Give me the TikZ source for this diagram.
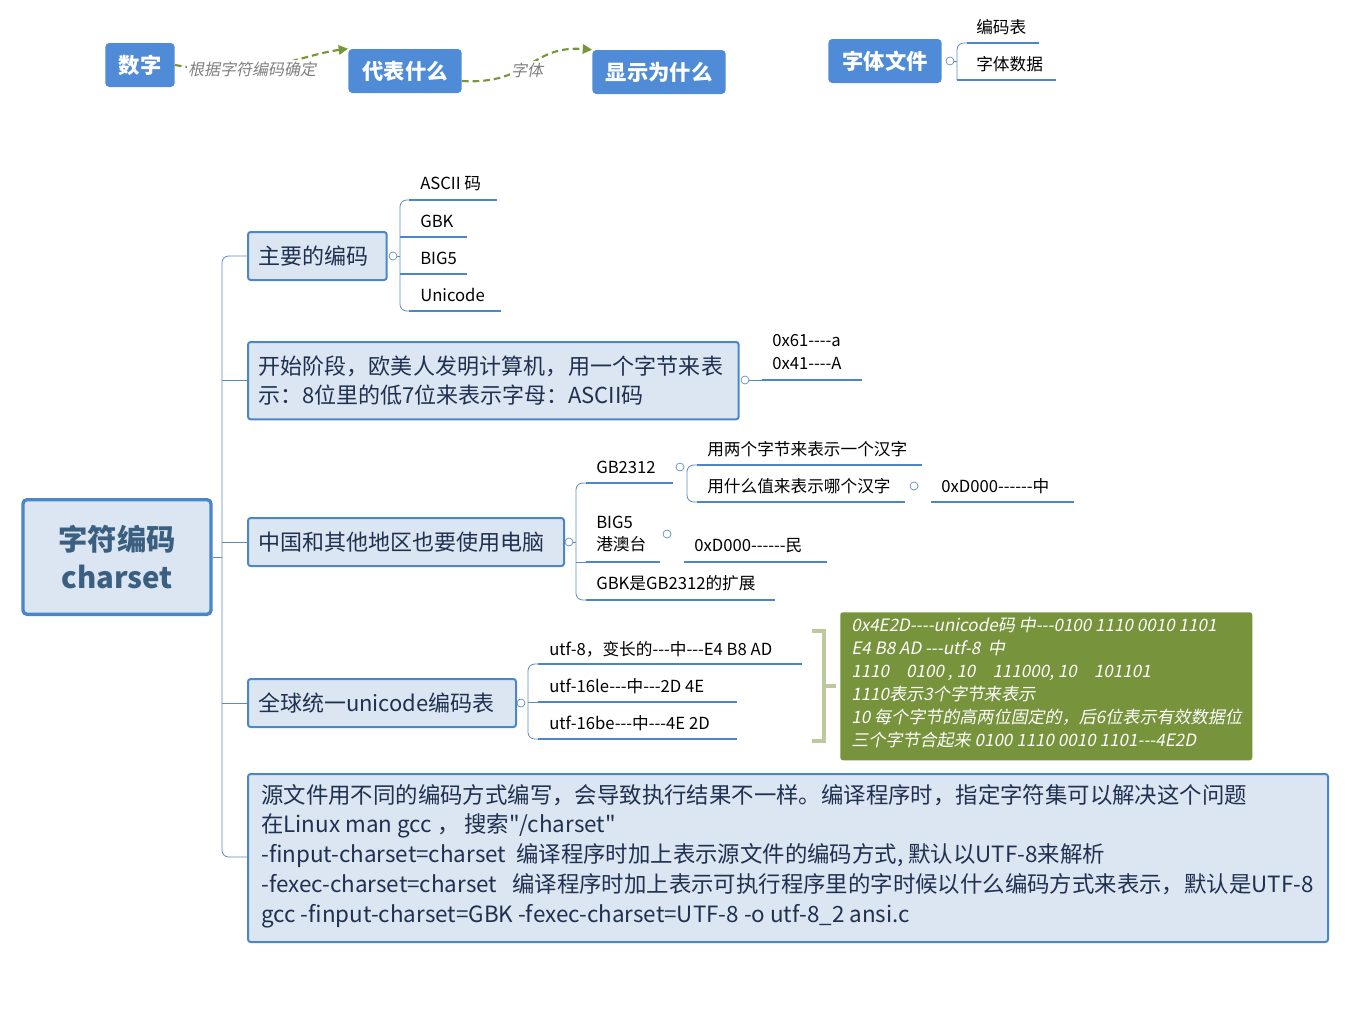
\documentclass[tikz,border=0pt]{standalone}
\usepackage{fontspec}
\setmainfont{Noto Sans CJK SC}[Ligatures=TeXOff]
\newfontfamily\slantf{Noto Sans CJK SC}[FakeSlant=0.2,Ligatures=TeXOff]
\XeTeXlinebreaklocale "zh"
\XeTeXlinebreakskip=0pt plus 1pt
\usetikzlibrary{arrows.meta}
\definecolor{bfill}{HTML}{DCE6F2}
\definecolor{bdraw}{HTML}{4A86C8}
\definecolor{solid}{HTML}{4F8BD6}
\definecolor{ttext}{HTML}{1F3050}
\definecolor{rtext}{HTML}{3A5F80}
\definecolor{gbox}{HTML}{77933C}
\definecolor{gline}{HTML}{77963A}
\definecolor{spine}{HTML}{5A8AC0}
\tikzset{
 x=0.75pt,y=-0.75pt,
 topic/.style={draw=bdraw,fill=bfill,line width=1.5pt,rounded corners=2pt,text=ttext,font=\fontsize{16.5}{22}\selectfont,inner xsep=7.5pt,inner ysep=0pt,anchor=north west,align=left},
 solidbox/.style={fill=solid,rounded corners=3pt,text=white,font=\bfseries\fontsize{16}{20}\selectfont,inner sep=0pt,minimum height=33pt},
 leaf/.style={text=black,font=\fontsize{12.5}{17}\selectfont,anchor=west,inner sep=0pt,align=left},
 uline/.style={draw=bdraw,line width=1.5pt},
 sp/.style={draw=spine,line width=0.6pt,rounded corners=5pt},
 knob/.style={draw=spine,circle,inner sep=0pt,minimum size=6pt,line width=0.5pt,fill=white},
 conn/.style={draw=gline,line width=1.6pt,dash pattern=on 5pt off 3pt,-{Triangle[length=7pt,width=7pt]}},
 clab/.style={text=gray,font=\slantf\fontsize{12}{14}\selectfont,fill=white,inner sep=1pt},
}
\begin{document}
\begin{tikzpicture}
\useasboundingbox (0,0) rectangle (1366,1014);
% top
\node[solidbox,minimum width=52pt] (shuzi) at (140,65) {数字};
\node[solidbox,minimum width=85pt] (daibiao) at (405,71) {代表什么};
\node[solidbox,minimum width=100pt] (xianshi) at (659,72) {显示为什么};
\draw[conn] (shuzi.east) .. controls (260,80) and (300,55) .. (daibiao.north west);
\node[clab] (l1) at (252,69) {根据字符编码确定};
\draw[conn] (daibiao.east) ++(0,10) .. controls (530,85) and (530,45) .. (xianshi.north west);
\node[clab] (l2) at (527,70) {字体};
\node[solidbox,minimum width=85pt] (ziti) at (885,61) {字体文件};
\node[knob] (k0) at (950,61) {};
\draw[sp] (k0.east) -- (957,61);
\draw[sp] (967,43) -| (957,80);
\node[leaf] (bm) at (976,27) {编码表};
\draw[uline] (967,43) -- (1039,43);
\node[leaf] (zs) at (976,64) {字体数据};
\draw[uline] (957,80) -- (1056,80);
% root
\node[draw=bdraw,fill=bfill,line width=2.5pt,rounded corners=3pt,minimum width=141pt,minimum height=86pt,text=rtext,font=\bfseries\fontsize{22}{28}\selectfont,align=center] (root) at (117,557) {字符编码\\charset};
\draw[sp] (root.east) -- (222,557);
\draw[sp] (247,256) -| (222,857) -- (247,857);
\foreach \y in {380,542,703} \draw[sp] (222,\y) -- (247,\y);
% branch 1
\node[topic,minimum width=104pt,minimum height=36pt,text width=89pt] (b1) at (247,231) {主要的编码};
\node[knob] (k1) at (393,256) {};
\draw[sp] (k1.east) -- (400,256);
\draw[sp] (409,200) -| (400,311) -- (409,311);
\node[leaf] at (420,184) {ASCII 码}; \draw[uline] (409,200) -- (497,200);
\node[leaf] at (420,221) {GBK}; \draw[uline] (400,237) -- (467,237);
\node[leaf] at (420,258) {BIG5}; \draw[uline] (400,274) -- (467,274);
\node[leaf] at (420,295) {Unicode}; \draw[uline] (409,311) -- (501,311);
% branch 2
\node[topic,minimum width=368pt,minimum height=58pt,text width=353pt] (b2) at (247,341) {开始阶段，欧美人发明计算机，用一个字节来表示：8位里的低7位来表示字母：ASCII码};
\node[knob] (k2) at (745,380) {};
\draw[sp] (k2.east) -- (762,380);
\node[leaf] at (772,352) {0x61----a\\0x41----A};
\draw[uline] (762,380) -- (862,380);
% branch 3
\node[topic,minimum width=237pt,minimum height=36pt,text width=222pt] (b3) at (247,517) {中国和其他地区也要使用电脑};
\node[knob] (k3) at (569,542) {};
\draw[sp] (k3.east) -- (576,542);
\draw[sp] (586,483) -| (576,600) -- (586,600);
\draw[sp] (576,562) -- (586,562);
\node[leaf] at (596,467) {GB2312}; \draw[uline] (586,483) -- (673,483);
\node[knob] (k31) at (680,467) {};
\draw[sp] (697,465) -| (687,502) -- (697,502);
\node[leaf] at (707,449) {用两个字节来表示一个汉字}; \draw[uline] (697,465) -- (922,465);
\node[leaf] at (707,486) {用什么值来表示哪个汉字}; \draw[uline] (697,502) -- (905,502);
\node[knob] (k32) at (914,486) {};
\node[leaf] at (941,486) {0xD000------中}; \draw[uline] (931,502) -- (1074,502);
\node[leaf] at (596,534) {BIG5\\港澳台}; \draw[uline] (586,562) -- (660,562);
\node[knob] (k33) at (667,534) {};
\node[leaf] at (694,546) {0xD000------民}; \draw[uline] (684,562) -- (827,562);
\node[leaf] at (596,583) {GBK是GB2312的扩展}; \draw[uline] (586,600) -- (775,600);
% branch 4
\node[topic,minimum width=201pt,minimum height=36pt,text width=186pt] (b4) at (247,678) {全球统一unicode编码表};
\node[knob] (k4) at (521,703) {};
\draw[sp] (538,664) -| (528,739) -- (538,739);
\draw[sp] (528,702) -- (538,702);
\node[leaf] at (549,649) {utf-8，变长的---中---E4 B8 AD}; \draw[uline] (538,664) -- (802,664);
\node[leaf] at (549,686) {utf-16le---中---2D 4E}; \draw[uline] (538,702) -- (737,702);
\node[leaf] at (549,723) {utf-16be---中---4E 2D}; \draw[uline] (538,739) -- (737,739);
\draw[draw=gbox!50,line width=2.5pt] (812,631) -- (824,631) -- (824,741) -- (812,741);
\draw[draw=gbox!50,line width=2.5pt] (824,686) -- (836,686);
\node[fill=gbox,rounded corners=2pt,minimum width=309pt,minimum height=111pt,anchor=north west] (gb) at (840,612) {};
\node[text=white,font=\slantf\fontsize{12.8}{17.3}\selectfont,align=left,anchor=north west,inner sep=0pt] (gt) at (851,617) {0x4E2D----unicode码 中---0100 1110 0010 1101\\E4 B8 AD ---utf-8\ \ 中\\1110\quad 0100 , 10\quad 111000, 10\quad 101101\\1110表示3个字节来表示\\10 每个字节的高两位固定的，后6位表示有效数据位\\三个字节合起来 0100 1110 0010 1101---4E2D};
% branch 5
\node[topic,minimum width=810pt,minimum height=126pt] (b5) at (247,773) {};
\node[text=ttext,font=\fontsize{16.8}{22.3}\selectfont,align=left,anchor=north west,inner sep=0pt] (b5t) at (261,784) {源文件用不同的编码方式编写，会导致执行结果不一样。编译程序时，指定字符集可以解决这个问题\\在Linux man gcc ， 搜索"/charset"\\-finput-charset=charset\ \ 编译程序时加上表示源文件的编码方式, 默认以UTF-8来解析\\-fexec-charset=charset\ \ \ 编译程序时加上表示可执行程序里的字时候以什么编码方式来表示，默认是UTF-8\\gcc -finput-charset=GBK -fexec-charset=UTF-8 -o utf-8\_2 ansi.c};
\end{tikzpicture}
\end{document}
